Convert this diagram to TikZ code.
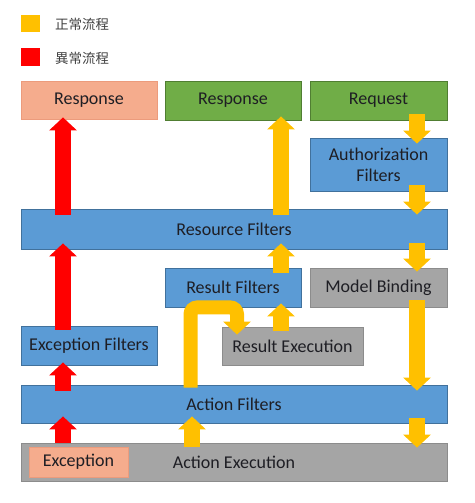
\documentclass[tikz,border=0pt]{standalone}
\usepackage{fontspec}
\setmainfont{Carlito}
\newfontfamily\cjk{Noto Sans CJK TC}
\usetikzlibrary{arrows.meta}
\definecolor{boxblue}{HTML}{5B9BD5}
\definecolor{boxblueb}{HTML}{41719C}
\definecolor{boxgreen}{HTML}{70AD47}
\definecolor{boxgreenb}{HTML}{507E32}
\definecolor{boxgray}{HTML}{A5A5A5}
\definecolor{boxgrayb}{HTML}{8C8C8C}
\definecolor{boxsalmon}{HTML}{F5AC8D}
\definecolor{boxsalmonb}{HTML}{EC9B7C}
\definecolor{flowyel}{HTML}{FFC000}
\definecolor{flowred}{HTML}{FF0000}
\definecolor{txtc}{HTML}{1E1E24}
\definecolor{keytxt}{HTML}{404040}

\begin{document}
\begin{tikzpicture}[x=1pt, y=-1pt,
  box/.style={draw, line width=0.8pt, inner sep=0pt, text=txtc, align=center,
    font=\fontsize{18}{21}\selectfont},
  bluebox/.style={box, fill=boxblue, draw=boxblueb},
  greenbox/.style={box, fill=boxgreen, draw=boxgreenb},
  graybox/.style={box, fill=boxgray, draw=boxgrayb},
  salmonbox/.style={box, fill=boxsalmon, draw=boxsalmonb},
  flow/.style={line width=16pt, -{Triangle[width=27pt,length=13pt]}},
  yflow/.style={flow, draw=flowyel},
  rflow/.style={flow, draw=flowred},
  keytext/.style={anchor=west, inner sep=0pt, text=keytxt, font=\cjk\fontsize{13.5}{14}\selectfont},
  ]

\useasboundingbox (0,0) rectangle (474,503);

% legend
\node[fill=flowyel, minimum width=19pt, minimum height=17pt, inner sep=0pt] (keyok) at (30.5,23.5) {};
\node[keytext] (keyoktxt) at (55,24) {正常流程};
\node[fill=flowred, minimum width=19pt, minimum height=18pt, inner sep=0pt] (keyerr) at (30.5,57) {};
\node[keytext] (keyerrtxt) at (55,58) {異常流程};

% boxes
\node[salmonbox, minimum width=136pt, minimum height=38pt] (resp1) at (89,100) {Response};
\node[greenbox, minimum width=136pt, minimum height=39pt] (resp2) at (233,100.5) {Response};
\node[greenbox, minimum width=137pt, minimum height=39pt] (req) at (378.5,100.5) {Request};
\node[bluebox, minimum width=137pt, minimum height=53pt] (auth) at (378.5,164.5) {Authorization\\Filters};
\node[bluebox, minimum width=426pt, minimum height=40pt] (resrc) at (234,229) {Resource Filters};
\node[bluebox, minimum width=136pt, minimum height=39pt] (resfil) at (233,287.5) {Result Filters};
\node[graybox, minimum width=137pt, minimum height=39pt] (model) at (378.5,287.5) {Model Binding};
\node[bluebox, minimum width=136pt, minimum height=39pt] (excfil) at (89,345.5) {Exception Filters};
\node[graybox, minimum width=141pt, minimum height=38pt] (resexe) at (292.5,346) {Result Execution};
\node[bluebox, minimum width=426pt, minimum height=38pt] (actfil) at (234,404) {Action Filters};
\node[graybox, minimum width=426pt, minimum height=38pt] (actexe) at (234,462) {Action Execution};
\node[salmonbox, minimum width=99pt, minimum height=30pt] (exc) at (78.5,462) {Exception};

% arrow columns
\coordinate (colR) at (63,0);
\coordinate (colM) at (281,0);
\coordinate (colA) at (417,0);
\coordinate (colX) at (192,0);
\coordinate (colB) at (190.5,0);
\coordinate (colC) at (237,0);

% exception flow
\draw[rflow, shorten <=-6pt, shorten >=-2pt] (colR |- resrc.north) -- (colR |- resp1.south);
\draw[rflow, shorten <=-4pt, shorten >=-6pt] (colR |- excfil.north) -- (colR |- resrc.south);
\draw[rflow, shorten <=-6pt, shorten >=-3pt] (colR |- actfil.north) -- (colR |- excfil.south);
\draw[rflow, shorten <=4pt, shorten >=-7pt] (colR |- exc.north) -- (colR |- actfil.south);

% normal flow
\draw[yflow, shorten <=-6pt, shorten >=-6pt] (colA |- req.south) -- (colA |- auth.north);
\draw[yflow, shorten <=-6pt, shorten >=-6pt] (colA |- auth.south) -- (colA |- resrc.north);
\draw[yflow, shorten <=-6pt, shorten >=-4pt] (colA |- resrc.south) -- (colA |- model.north);
\draw[yflow, shorten <=-7pt, shorten >=-6pt] (colA |- model.south) -- (colA |- actfil.north);
\draw[yflow, shorten <=-5pt, shorten >=-5pt] (colA |- actfil.south) -- (colA |- actexe.north);
\draw[yflow, shorten <=-4pt, shorten >=-7pt] (colX |- actexe.north) -- (colX |- actfil.south);
\draw[yflow, line width=14pt, rounded corners=7pt, shorten <=-3pt, shorten >=-8pt]
  (colB |- actfil.north) -- (colB |- resfil.south) -- (colC |- resfil.south) -- (colC |- resexe.north);
\draw[yflow, shorten <=-4pt, shorten >=-4pt] (colM |- resexe.north) -- (colM |- resfil.south);
\draw[yflow, shorten <=-5pt, shorten >=-6pt] (colM |- resfil.north) -- (colM |- resrc.south);
\draw[yflow, shorten <=-6pt, shorten >=-4pt] (colM |- resrc.north) -- (colM |- resp2.south);

\end{tikzpicture}
\end{document}
